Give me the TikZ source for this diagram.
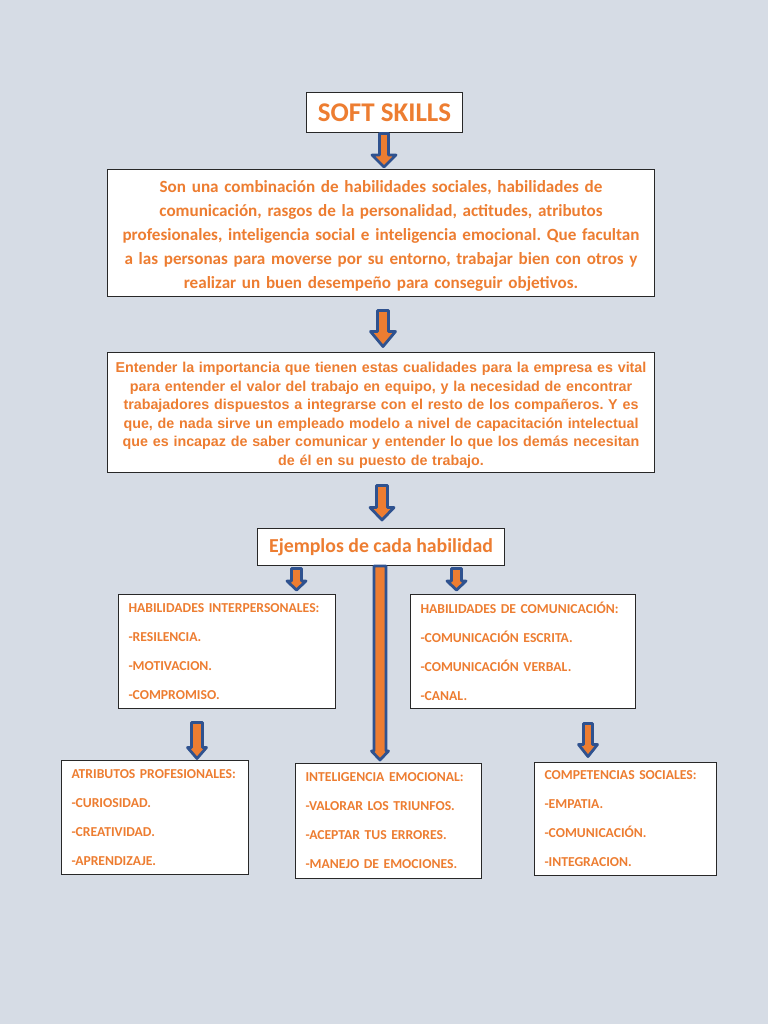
\documentclass[tikz,border=0pt]{standalone}
\usepackage{fontspec}
\setmainfont{Carlito}
\newfontfamily\arialf{Liberation Sans}
\usetikzlibrary{calc}
\frenchspacing
\definecolor{bgc}{RGB}{214,220,229}
\definecolor{orng}{RGB}{237,125,49}
\definecolor{arrblue}{RGB}{47,82,143}
\definecolor{boxline}{RGB}{40,40,40}
\tikzset{
  boxsty/.style={draw=boxline, line width=1pt, fill=white, anchor=north west, inner ysep=0pt, text=orng},
  listbox/.style={boxsty, inner xsep=10pt, align=left, font=\bfseries\fontsize{13.65}{29}\selectfont},
  blockarrow/.style={draw=arrblue, fill=orng, line width=2.8pt, line join=round}
}
\newcommand{\blockarr}[5]{%
  \draw[blockarrow] let \p1=(#1), \p2=(#2) in
    (\x1-#3,\y1) -- (\x1+#3,\y1) -- (\x1+#3,\y2+#5) -- (\x1+#4,\y2+#5) --
    (\x1,\y2) -- (\x1-#4,\y2+#5) -- (\x1-#3,\y2+#5) -- cycle;}
\begin{document}
\begin{tikzpicture}[x=1pt,y=-1pt]
\fill[bgc] (0,0) rectangle (768,1024);
\useasboundingbox (0,0) rectangle (768,1024);

% title
\node[boxsty, minimum width=156pt, minimum height=40pt, inner xsep=0pt,
      font=\bfseries\fontsize{27}{30}\selectfont] (title) at (306,92) {SOFT SKILLS};

% box 1
\node[boxsty, text width=537pt, inner xsep=5pt, minimum height=127pt, align=center,
      font=\bfseries\fontsize{17.1}{24.2}\selectfont] (def) at (107,169)
 {\rule{0pt}{18pt}Son una combinación de habilidades sociales, habilidades de\\
  comunicación, rasgos de la personalidad, actitudes, atributos\\
  profesionales, inteligencia social e inteligencia emocional. Que facultan\\
  a las personas para moverse por su entorno, trabajar bien con otros y\\
  realizar un buen desempeño para conseguir objetivos.};

% box 2
\node[boxsty, text width=537pt, inner xsep=5pt, minimum height=120pt, align=center,
      font=\arialf\bfseries\fontsize{14.3}{18.5}\selectfont] (imp) at (107,352)
 {\rule{0pt}{16pt}Entender la importancia que tienen estas cualidades para la empresa es vital\\
  para entender el valor del trabajo en equipo, y la necesidad de encontrar\\
  trabajadores dispuestos a integrarse con el resto de los compañeros. Y es\\
  que, de nada sirve un empleado modelo a nivel de capacitación intelectual\\
  que es incapaz de saber comunicar y entender lo que los demás necesitan\\
  de él en su puesto de trabajo.};

% ejemplos
\node[boxsty, minimum width=247pt, minimum height=37pt, inner xsep=0pt,
      font=\bfseries\fontsize{19.8}{24}\selectfont] (ej) at (257,528) {Ejemplos de cada habilidad};

% list boxes
\node[listbox, text width=197pt, minimum height=114pt] (hi) at (118,594)
 {HABILIDADES INTERPERSONALES:\\-RESILENCIA.\\-MOTIVACION.\\-COMPROMISO.};
\node[listbox, text width=205pt, minimum height=114pt] (hc) at (410,594)
 {HABILIDADES DE COMUNICACIÓN:\\-COMUNICACIÓN ESCRITA.\\-COMUNICACIÓN VERBAL.\\-CANAL.};
\node[listbox, text width=167pt, minimum height=114pt] (ap) at (61,760)
 {ATRIBUTOS PROFESIONALES:\\-CURIOSIDAD.\\-CREATIVIDAD.\\-APRENDIZAJE.};
\node[listbox, text width=166pt, minimum height=115pt] (ie) at (295,763)
 {INTELIGENCIA EMOCIONAL:\\-VALORAR LOS TRIUNFOS.\\-ACEPTAR TUS ERRORES.\\-MANEJO DE EMOCIONES.};
\node[listbox, text width=162pt, minimum height=113pt] (cs) at (534,762)
 {COMPETENCIAS SOCIALES:\\-EMPATIA.\\-COMUNICACIÓN.\\-INTEGRACION.};

% arrow end points
\coordinate (a1s) at (384,133.5);   \coordinate (a1e) at (384,167);
\coordinate (a2s) at (383,310.5);   \coordinate (a2e) at (383,346.5);
\coordinate (a3s) at (382,485.5);   \coordinate (a3e) at (382,520);
\coordinate (a4s) at (296.5,568.5); \coordinate (a4e) at (296.5,590);
\coordinate (a5s) at (456.5,568.5); \coordinate (a5e) at (456.5,590);
\coordinate (a6s) at (380,566);     \coordinate (a6e) at (380,760);
\coordinate (a7s) at (197,722.5);   \coordinate (a7e) at (197,758.5);
\coordinate (a8s) at (588,723.5);   \coordinate (a8e) at (588,756.5);

\blockarr{a1s}{a1e}{4.5pt}{12pt}{12pt}
\blockarr{a2s}{a2e}{5.5pt}{12.5pt}{15pt}
\blockarr{a3s}{a3e}{5.5pt}{12pt}{12.5pt}
\blockarr{a4s}{a4e}{5pt}{9.5pt}{9pt}
\blockarr{a5s}{a5e}{5pt}{9.5pt}{9pt}
\blockarr{a6s}{a6e}{6pt}{8.5pt}{9pt}
\blockarr{a7s}{a7e}{5.5pt}{9.5pt}{11pt}
\blockarr{a8s}{a8e}{4.5pt}{9.5pt}{12pt}
\end{tikzpicture}
\end{document}
